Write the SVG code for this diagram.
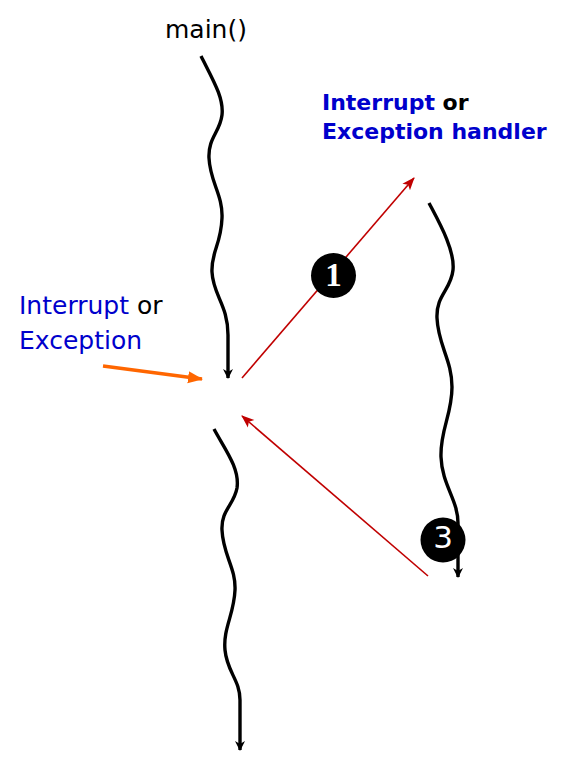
<svg xmlns="http://www.w3.org/2000/svg" width="566" height="765" viewBox="0 0 566 765">
<style>
.wave{fill:none;stroke:#000;stroke-width:3.4;stroke-linecap:butt}
.red{fill:none;stroke:#C00000;stroke-width:1.6}
.org{fill:none;stroke:#FF6600;stroke-width:3.5}
.lbl{font-family:"DejaVu Sans","Liberation Sans",sans-serif;font-size:25px}
.bl{font-family:"DejaVu Sans","Liberation Sans",sans-serif;font-size:22px;font-weight:bold}
.blue{fill:#0000CC}
.num1{font-family:"Liberation Serif",serif;font-size:33px;font-weight:bold;fill:#fff;text-anchor:middle}
.num3{font-family:"DejaVu Sans",sans-serif;font-size:31px;fill:#fff;text-anchor:middle}
</style>
<defs>
<marker id="ab" markerWidth="12" markerHeight="12" refX="9" refY="6" orient="auto" markerUnits="userSpaceOnUse">
<path d="M0,1 L10,6 L0,11 L3,6 Z" fill="#000"/>
</marker>
<marker id="ar" markerWidth="14" markerHeight="12" refX="12" refY="6" orient="auto" markerUnits="userSpaceOnUse">
<path d="M0,1 L13,6 L0,11 L3,6 Z" fill="#C00000"/>
</marker>
<marker id="ao" markerWidth="16" markerHeight="14" refX="14" refY="7" orient="auto" markerUnits="userSpaceOnUse">
<path d="M0,1 L15,7 L0,13 Z" fill="#FF6600"/>
</marker>
</defs>
<g id="main-label"><text class="lbl" x="206" y="38" text-anchor="middle">main()</text></g>
<g id="interrupt-label"><text class="lbl" x="19" y="314"><tspan class="blue">Interrupt</tspan> or</text><text class="lbl blue" x="19" y="349">Exception</text></g>
<g id="handler-label"><text class="bl" x="322" y="110"><tspan class="blue">Interrupt</tspan> or</text><text class="bl blue" x="322" y="139">Exception handler</text></g>
<g id="connectors">
<path id="main-top" class="wave" marker-end="url(#ab)" d="M201,56 C213,80 224,98 222,115 C220,132 208,138 209,158 C210,182 223,195 222,218 C221,245 211,252 212,272 C213,295 228,305 228,335 L228,378"/>
<path id="main-bottom" class="wave" marker-end="url(#ab)" d="M214,429 C224,448 240,468 237,488 C234,505 221,510 222,530 C223,555 236,568 235,590 C234,615 223,628 225,650 C227,672 240,680 240,700 L240,750"/>
<path id="handler" class="wave" marker-end="url(#ab)" d="M429,203 C439,222 455,250 453,270 C451,290 436,295 437,318 C438,345 452,360 452,387 C452,415 440,430 441,457 C442,485 458,500 458,523 L458,577"/>
<line class="red" x1="242" y1="378" x2="414" y2="178" marker-end="url(#ar)"/>
<line class="red" x1="428" y1="576" x2="242" y2="416" marker-end="url(#ar)"/>
<line class="org" x1="103" y1="366" x2="202" y2="379" marker-end="url(#ao)"/>
</g>
<g id="step1"><circle cx="333.5" cy="275.5" r="22.5" fill="#000"/><text class="num1" x="333.5" y="285.5">1</text></g>
<g id="step3"><circle cx="443" cy="540" r="22.5" fill="#000"/><text class="num3" x="443" y="548">3</text></g>
</svg>
